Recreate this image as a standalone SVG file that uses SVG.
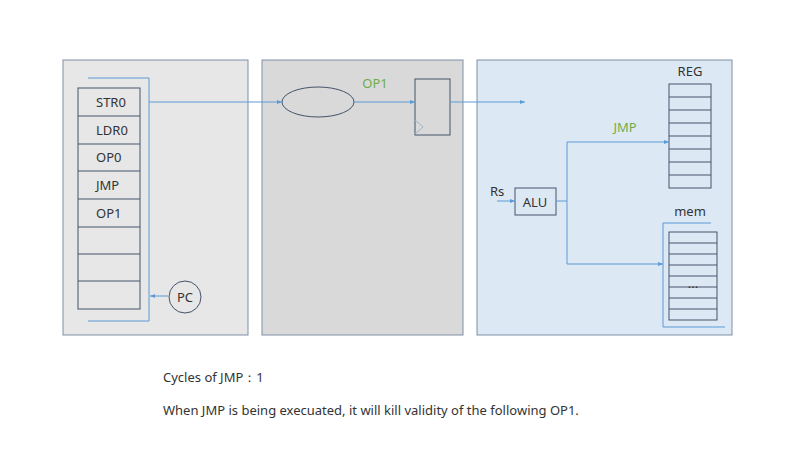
<svg xmlns="http://www.w3.org/2000/svg" width="800" height="450" viewBox="0 0 800 450">
<defs>
<style>
text{font-family:"Microsoft YaHei","Noto Sans","Liberation Sans",sans-serif;font-size:13px;fill:#333}
.g{fill:#70ad47}
.ln{stroke:#5b9bd5;stroke-width:1;fill:none}
.bx{fill:none;stroke:#44546a;stroke-width:1}
.pn{stroke:#7f8fa6;stroke-width:1}
</style>
<marker id="a" markerWidth="6" markerHeight="6" refX="5" refY="3" orient="auto"><path d="M0,1 L5,3 L0,5z" fill="#5b9bd5"/></marker>
</defs>
<rect width="800" height="450" fill="#fff"/>
<g id="panel1"><rect class="pn" x="63" y="60" width="185" height="275" fill="#e7e7e7"/></g>
<g id="panel2"><rect class="pn" x="262" y="60" width="201" height="275" fill="#d9d9d9"/></g>
<g id="panel3"><rect class="pn" x="477" y="60" width="255" height="275" fill="#dde8f5"/></g>
<g id="imem">
<path class="ln" d="M88,78 H149 V321 H88"/>
<rect class="bx" x="78" y="88" width="62" height="221"/>
<path class="bx" d="M78,116H140M78,144H140M78,171H140M78,199H140M78,227H140M78,254H140M78,281H140"/>
<text x="96" y="107">STR0</text><text x="96" y="135">LDR0</text><text x="96" y="162">OP0</text>
<text x="96" y="190">JMP</text><text x="96" y="218">OP1</text>
</g>
<g id="pc"><circle class="bx" cx="185" cy="297" r="16" fill="none"/><text x="185" y="302" text-anchor="middle">PC</text></g>
<g id="decode"><ellipse class="bx" cx="318" cy="102" rx="36" ry="15"/></g>
<g id="ff"><rect class="bx" x="415" y="79" width="35" height="56"/><path d="M415,120 L423,127 L415,134" fill="none" stroke="#9db3c8"/><text class="g" x="375" y="88" text-anchor="middle">OP1</text></g>
<g id="reg"><text x="690" y="76" text-anchor="middle">REG</text>
<rect class="bx" x="669" y="84" width="42" height="104"/>
<path class="bx" d="M669,97H711M669,110H711M669,123H711M669,136H711M669,149H711M669,162H711M669,175H711"/></g>
<g id="mem"><text x="690" y="216" text-anchor="middle">mem</text>
<path class="ln" d="M711,223 H663 V327 H725"/>
<rect class="bx" x="669" y="232" width="48" height="88"/>
<path class="bx" d="M669,243H717M669,254H717M669,265H717M669,276H717M669,287H717M669,298H717M669,309H717"/>
<text x="693" y="288" text-anchor="middle" font-size="11">...</text></g>
<g id="alu"><rect class="bx" x="515" y="188" width="41" height="27"/><text x="535" y="207" text-anchor="middle">ALU</text><text x="490" y="196">Rs</text></g>
<g id="connectors">
<path class="ln" d="M149,102 H282" marker-end="url(#a)"/>
<path class="ln" d="M354,102 H415" marker-end="url(#a)"/>
<path class="ln" d="M450,102 H525" marker-end="url(#a)"/>
<path class="ln" d="M168,296 H150" marker-end="url(#a)"/>
<path class="ln" d="M497,201 H515" marker-end="url(#a)"/>
<path class="ln" d="M556,201 H567 V142 H669" marker-end="url(#a)"/>
<path class="ln" d="M567,201 V264 H663" marker-end="url(#a)"/>
<text class="g" x="625" y="132" text-anchor="middle">JMP</text>
</g>
<text x="163" y="382">Cycles of JMP：1</text>
<text x="163" y="415">When JMP is being execuated, it will kill validity of the following OP1.</text>
</svg>
